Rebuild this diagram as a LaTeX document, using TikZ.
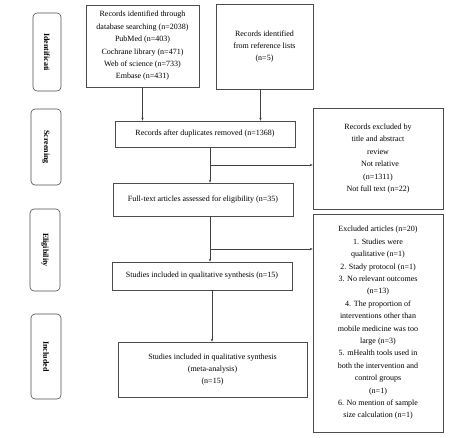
\documentclass[tikz,border=0pt]{standalone}
\usepackage{fontspec}
\setmainfont{Liberation Serif}
\usetikzlibrary{arrows.meta,calc}
\begin{document}
\begin{tikzpicture}[x=1pt,y=-1pt,
  box/.style={draw=black!70,line width=0.6pt,align=center,inner sep=1pt,font=\fontsize{8}{12.4}\selectfont},
  side/.style={draw=black!70,line width=0.6pt,rounded corners=4pt,rotate=-90,font=\fontsize{8}{10}\selectfont\bfseries,inner sep=0pt},
  arr/.style={draw=black!75,line width=0.6pt,-{Stealth[length=3pt,width=2.4pt]}}]
\useasboundingbox (0,0) rectangle (474,437);
% side labels
\node[side,minimum width=78,minimum height=28] (s1) at (47,52) {Identificati};
\node[side,minimum width=76,minimum height=30] (s2) at (46,147) {Screening};
\node[side,minimum width=82,minimum height=30] (s3) at (45,250) {Eligibility};
\node[side,minimum width=85,minimum height=30] (s4) at (46,356.5) {Included};
% main boxes
\node[box,minimum width=113,minimum height=82] (b1) at (142.5,46) {Records identified through\\database searching (n=2038)\\PubMed (n=403)\\Cochrane library (n=471)\\Web of science (n=733)\\Embase (n=431)};
\node[box,minimum width=97,minimum height=85] (b2) at (264.5,46.5) {Records identified\\from reference lists\\(n=5)};
\node[box,minimum width=180,minimum height=26] (dup) at (205,134) {Records after duplicates removed (n=1368)};
\node[box,minimum width=130,minimum height=101] (ex1) at (378,158.5) {Records excluded by\\title and abstract\\review\\\ \ Not relative\\(n=1311)\\Not full text (n=22)};
\node[box,minimum width=180,minimum height=33] (ft) at (203,199.5) {Full-text articles assessed for eligibility (n=35)};
\node[box,minimum width=130,minimum height=218] (ex2) at (378,323) {Excluded articles (n=20)\\1. Studies were\\qualitative (n=1)\\2. Stady protocol (n=1)\\3. No relevant outcomes\\(n=13)\\4. The proportion of\\interventions other than\\mobile medicine was too\\large (n=3)\\5. mHealth tools used in\\both the intervention and\\control groups\\(n=1)\\6. No mention of sample\\size calculation (n=1)};
\node[box,minimum width=180,minimum height=28] (st) at (202,276) {Studies included in qualitative synthesis (n=15)};
\node[box,minimum width=189,minimum height=55] (fin) at (212.5,369.5) {Studies included in qualitative synthesis\\(meta-analysis)\\(n=15)};
% connectors
\draw[arr] (b1.south) -- (b1.south |- dup.north);
\coordinate (c2) at ($(b2.south)+(-4,0)$);
\draw[arr] (c2) -- (c2 |- dup.north);
\coordinate (c3) at (210,0);
\draw[arr] (c3 |- dup.south) -- (c3 |- ft.north);
\coordinate (br1) at (210,165);
\draw[arr] (br1) -- (ex1.west |- br1);
\draw[arr] (c3 |- ft.south) -- (c3 |- st.north);
\coordinate (br2) at (210,249);
\draw[arr] (br2) -- (ex2.west |- br2);
\coordinate (c4) at (212,0);
\draw[arr] (c4 |- st.south) -- (c4 |- fin.north);
\end{tikzpicture}
\end{document}
